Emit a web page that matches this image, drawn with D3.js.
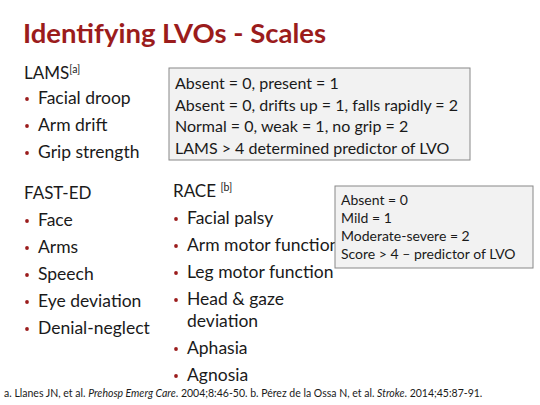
<!DOCTYPE html>
<html>
<head>
<meta charset="utf-8">
<script src="https://cdn.jsdelivr.net/npm/d3@7"></script>
<style>
  body { margin: 0; background: #fff; }
  text { font-family: Lato, "Open Sans", sans-serif; fill: #1a1a1a; }
</style>
</head>
<body>
<svg id="slide"></svg>
<script>
const title = "Identifying LVOs - Scales";
const lamsItems = ["Facial droop", "Arm drift", "Grip strength"];
const lamsBox = [
  "Absent = 0, present = 1",
  "Absent = 0, drifts up = 1, falls rapidly = 2",
  "Normal = 0, weak = 1, no grip = 2",
  "LAMS > 4 determined predictor of LVO"
];
const fastItems = ["Face", "Arms", "Speech", "Eye deviation", "Denial-neglect"];
const raceItems = [["Facial palsy"], ["Arm motor function"], ["Leg motor function"],
  ["Head & gaze", "deviation"], ["Aphasia"], ["Agnosia"]];
const raceBox = ["Absent = 0", "Mild = 1", "Moderate-severe = 2", "Score > 4 \u2013 predictor of LVO"];

const W = 540, H = 405, red = "#9b1c1c";
const svg = d3.select("#slide").attr("width", W).attr("height", H);

svg.append("text").attr("x", 23).attr("y", 43)
  .style("font-size", "27.5px").style("font-weight", "bold").style("fill", red)
  .text(title);

function heading(x, y, label, sup) {
  const t = svg.append("text").attr("x", x).attr("y", y).style("font-size", "17px").text(label);
  t.append("tspan").attr("dy", -6).style("font-size", "10.5px").text(sup);
}

function bullets(x, y0, step, items) {
  let y = y0;
  items.forEach(it => {
    const lines = Array.isArray(it) ? it : [it];
    svg.append("circle").attr("cx", x + 3).attr("cy", y - 5).attr("r", 1.9).attr("fill", red);
    lines.forEach((l, i) => {
      svg.append("text").attr("x", x + 14).attr("y", y + i * 22).style("font-size", "17.5px").text(l);
    });
    y += step + (lines.length - 1) * 22;
  });
}

function box(x, y, w, h, lines, size, y0, step) {
  svg.append("rect").attr("x", x).attr("y", y).attr("width", w).attr("height", h)
    .attr("fill", "#f2f2f2").attr("stroke", "#888").attr("stroke-width", 1);
  svg.selectAll(null).data(lines).join("text")
    .attr("x", x + 6).attr("y", (d, i) => y0 + i * step)
    .style("font-size", size + "px").text(d => d);
}

heading(24, 79, "LAMS", "[a]");
bullets(24, 104, 27, lamsItems);
box(169, 68, 301, 92, lamsBox, 16, 89, 21.5);

svg.append("text").attr("x", 24).attr("y", 199).style("font-size", "17px").text("FAST-ED");
bullets(24, 226, 27, fastItems);

heading(173, 197, "RACE ", "[b]");
bullets(173, 224, 27, raceItems);
box(335, 186, 198, 82, raceBox, 14, 205, 18);

const foot = svg.append("text").attr("x", 4).attr("y", 397).style("font-size", "10.5px");
foot.append("tspan").text("a. Llanes JN, et al. ");
foot.append("tspan").style("font-style", "italic").text("Prehosp Emerg Care");
foot.append("tspan").text(". 2004;8:46-50. b. Pérez de la Ossa N, et al. ");
foot.append("tspan").style("font-style", "italic").text("Stroke");
foot.append("tspan").text(". 2014;45:87-91.");
</script>
</body>
</html>
